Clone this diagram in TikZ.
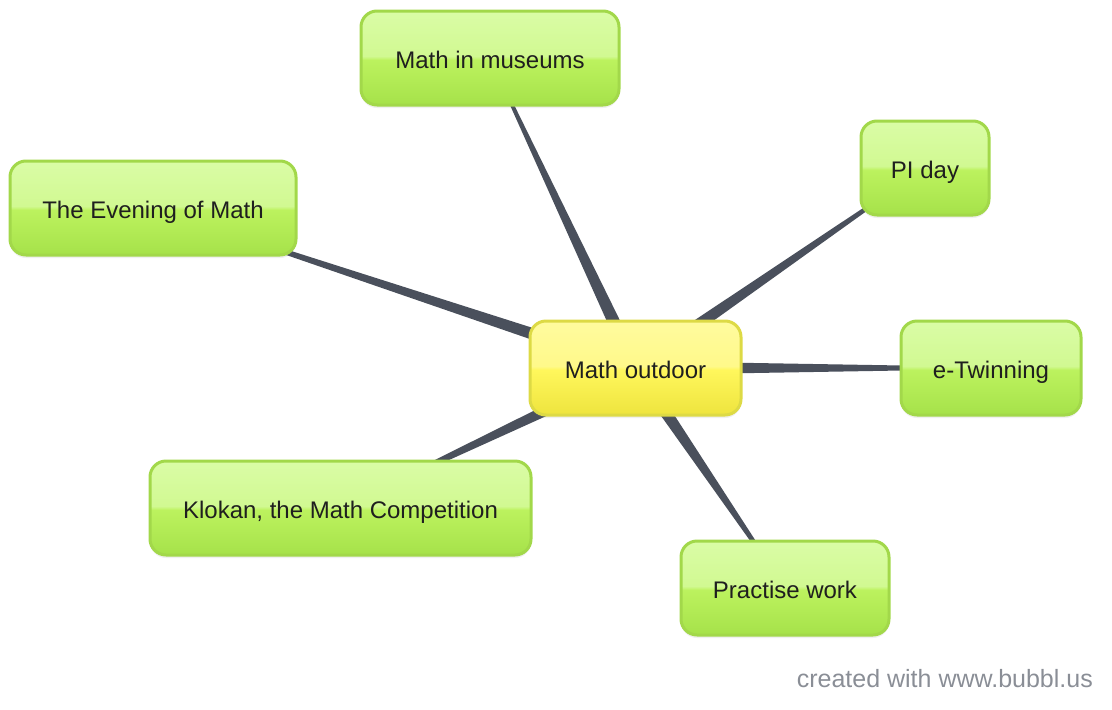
\documentclass[tikz,border=0pt]{standalone}
\usepackage{fontspec}
\setmainfont{Liberation Sans}
\usetikzlibrary{calc,backgrounds,shadows}

\definecolor{leafEdge}{HTML}{A2D84A}
\definecolor{leafTop}{HTML}{DAFCA6}
\definecolor{leafHigh}{HTML}{D1F992}
\definecolor{leafMid}{HTML}{BCF25E}
\definecolor{leafLow}{HTML}{A6E24A}
\definecolor{rootEdge}{HTML}{DDDA45}
\definecolor{rootTop}{HTML}{FFFB9E}
\definecolor{rootHigh}{HTML}{FFF98A}
\definecolor{rootMid}{HTML}{FFF75C}
\definecolor{rootLow}{HTML}{EEE43E}
\definecolor{spokeGray}{HTML}{4A505C}
\definecolor{footGray}{HTML}{8A8E96}

\pgfdeclareverticalshading{leafshade}{100bp}{color(0bp)=(leafLow); color(25bp)=(leafLow);
  color(49bp)=(leafMid); color(51bp)=(leafHigh); color(75bp)=(leafTop); color(100bp)=(leafTop)}
\pgfdeclareverticalshading{rootshade}{100bp}{color(0bp)=(rootLow); color(25bp)=(rootLow);
  color(49bp)=(rootMid); color(51bp)=(rootHigh); color(75bp)=(rootTop); color(100bp)=(rootTop)}

% tapered connector from the root to a child
\newcommand{\spoke}[2]{%
  \fill[spokeGray] ($(#1)!7pt!90:(#2)$) -- ($(#2)!1pt!-90:(#1)$)
    -- ($(#2)!1pt!90:(#1)$) -- ($(#1)!7pt!-90:(#2)$) -- cycle;}

\begin{document}
\begin{tikzpicture}[x=1pt,y=-1pt,
    bubble/.style={rounded corners=16pt, line width=3pt, minimum height=94pt,
      inner sep=0pt, text height=20pt, text depth=0pt, text=black!88,
      font=\fontsize{24}{28}\selectfont,
      drop shadow={opacity=0.12, shadow xshift=0pt, shadow yshift=-3pt}},
    leaf/.style={bubble, draw=leafEdge, shading=leafshade},
    root/.style={bubble, draw=rootEdge, shading=rootshade}]
  \useasboundingbox (0,0) rectangle (1112,710);

  \node[root, minimum width=211pt] (outdoor) at (635.5,368) {Math outdoor};
  \node[leaf, minimum width=258pt] (museums) at (490,58) {Math in museums};
  \node[leaf, minimum width=128pt] (piday) at (925,168) {PI day};
  \node[leaf, minimum width=286pt] (evening) at (153,208) {The Evening of Math};
  \node[leaf, minimum width=180pt] (twinning) at (991,368) {e-Twinning};
  \node[leaf, minimum width=381pt] (klokan) at (340.5,508) {Klokan, the Math Competition};
  \node[leaf, minimum width=208pt] (practise) at (785,588) {Practise work};

  \begin{scope}[on background layer]
    \foreach \kid in {museums,piday,evening,twinning,klokan,practise}{
      \spoke{outdoor}{\kid}
    }
  \end{scope}

  \node[anchor=base east, text=footGray, font=\fontsize{25}{30}\selectfont, inner sep=0pt]
    (credit) at (1093,687) {created with www.bubbl.us};
\end{tikzpicture}
\end{document}
